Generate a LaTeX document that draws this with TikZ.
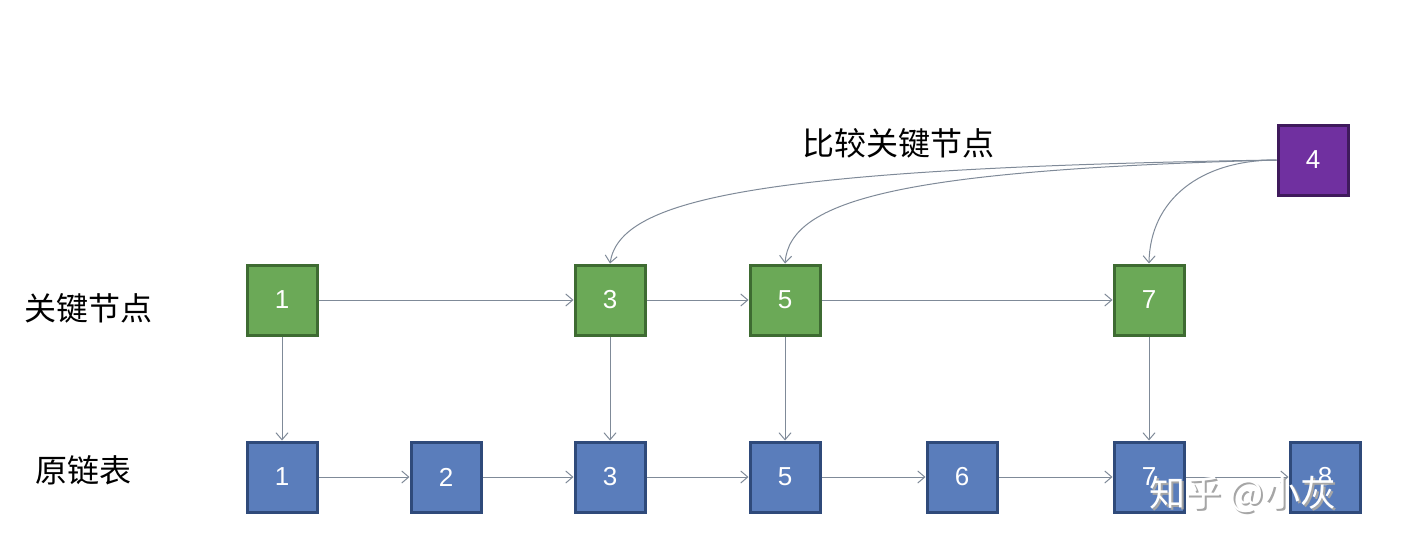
\documentclass[tikz,border=0pt]{standalone}
\usepackage{fontspec}
\setmainfont{Liberation Sans}
\newfontfamily\cjk{Noto Sans CJK SC}
\usetikzlibrary{arrows.meta}
\definecolor{gfill}{HTML}{6BA957}
\definecolor{gdraw}{HTML}{3E6B32}
\definecolor{bfill}{HTML}{5A7DBB}
\definecolor{bdraw}{HTML}{2F4A7A}
\definecolor{pfill}{HTML}{7030A0}
\definecolor{pdraw}{HTML}{3F1A5C}
\definecolor{ln}{HTML}{7F8A98}
\begin{document}
\begin{tikzpicture}[x=1pt,y=-1pt,
  box/.style={minimum size=70pt,inner sep=0pt,line width=3pt,text=white,font=\fontsize{26}{26}\selectfont},
  gbox/.style={box,fill=gfill,draw=gdraw},
  bbox/.style={box,fill=bfill,draw=bdraw},
  pbox/.style={box,fill=pfill,draw=pdraw},
  arr/.style={draw=ln,line width=1pt,-{Straight Barb[length=7pt,width=12pt]}},
  lab/.style={font=\cjk\fontsize{32}{32}\selectfont}]
\useasboundingbox (0,0) rectangle (1414,552);
\node[gbox] (g1) at (282,300) {1};
\node[gbox] (g3) at (610,300) {3};
\node[gbox] (g5) at (785,300) {5};
\node[gbox] (g7) at (1149,300) {7};
\node[pbox] (p4) at (1313,160) {4};
\foreach \n/\x in {1/282,2/446,3/610,5/785,6/962,7/1149,8/1325}
  \node[bbox] (b\n) at (\x,477) {\n};
\node[lab] (t1) at (88,308) {关键节点};
\node[lab] (t2) at (83,470) {原链表};
\node[lab] (t3) at (898,143) {比较关键节点};
\draw[arr] (g1) -- (g3);
\draw[arr] (g3) -- (g5);
\draw[arr] (g5) -- (g7);
\foreach \n in {1,3,5,7} \draw[arr] (g\n) -- (b\n);
\draw[arr] (b1) -- (b2);
\draw[arr] (b2) -- (b3);
\draw[arr] (b3) -- (b5);
\draw[arr] (b5) -- (b6);
\draw[arr] (b6) -- (b7);
\draw[arr] (b7) -- (b8);
\draw[arr] (p4.west) .. controls (750,168) and (620,200) .. (g3.north);
\draw[arr] (p4.west) .. controls (900,170) and (790,200) .. (g5.north);
\draw[arr] (p4.west) .. controls (1200,160) and (1150,200) .. (g7.north);
\node[font=\cjk\fontsize{36}{36}\selectfont,text=gray!70] (wms) at (1245,496) {知乎 @小灰};
\node[font=\cjk\fontsize{36}{36}\selectfont,text=white] (wm) at (1243,494) {知乎 @小灰};
\end{tikzpicture}
\end{document}
